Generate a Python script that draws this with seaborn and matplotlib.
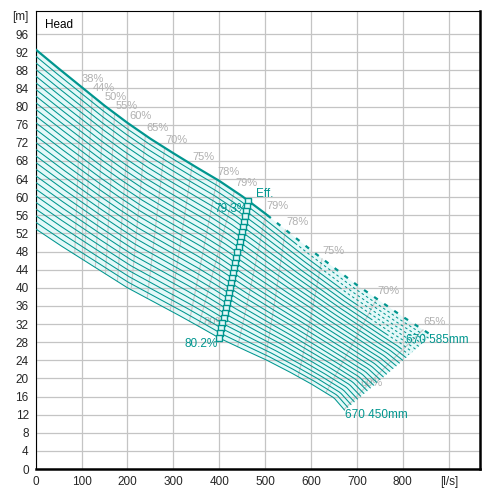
import numpy as np
import matplotlib
matplotlib.use("Agg")
import matplotlib.pyplot as plt
import seaborn as sns

# largest impeller (585mm)
top_q = [0, 50, 100, 150, 200, 250, 300, 350, 400, 450, 500, 600, 700, 800, 863]
top_h = [92.6, 88.4, 84.3, 80.2, 76.4, 72.9, 69.7, 66.6, 63.6, 60.2, 56.4, 48.3, 40.6, 33.6, 29.5]
# smallest impeller (450mm)
bot_q = [0, 50, 100, 150, 200, 250, 300, 350, 400, 450, 500, 550, 600, 650, 673]
bot_h = [53.0, 49.6, 46.4, 43.2, 40.0, 37.3, 34.6, 31.8, 28.9, 26.5, 24.2, 21.6, 18.8, 15.7, 13.0]
diameters = list(range(585, 449, -5))   # 28 trims

# curves turn dashed past this line
dash_q = [500, 810]
dash_h = [56.4, 25.0]

# best efficiency point on largest / smallest curve
bep_q = [463, 400]
bep_labels = ['79.3%', '80.2%']

# iso-efficiency lines: flow where they meet the top and bottom curve
eff_labels = ['38%', '44%', '50%', '55%', '60%', '65%', '70%', '75%', '78%', '79%',
              '79%', '78%', '75%', '70%', '65%']
eff_top_q = [99, 123, 148, 172, 203, 239, 281, 341, 395, 433, 501, 544, 624, 743, 844]
eff_bot_q = [85, 106, 130, 152, 178, 208, 243, 293, 335, 355, 440, 500, 572, 632, 672]

x_ticks = [0, 100, 200, 300, 400, 500, 600, 700, 800, 900]
x_ticklabels = ['0', '100', '200', '300', '400', '500', '600', '700', '800', '[l/s]']
y_ticks = list(range(0, 101, 4))
y_ticklabels = [str(v) for v in y_ticks[:-1]] + ['[m]']

teal = '#00968f'
grey_line = '#c8c8c8'
grey_text = '#b0b0b0'

sns.set_style("white")
plt.rcParams['font.family'] = ['Liberation Sans', 'DejaVu Sans']

q_top_end, q_bot_end = top_q[-1], bot_q[-1]
s = np.linspace(0, 1, 160)


def curve(d):
    f = (d - 450) / 135
    q = s * (f * q_top_end + (1 - f) * q_bot_end)
    h = f * np.interp(s * q_top_end, top_q, top_h) + (1 - f) * np.interp(s * q_bot_end, bot_q, bot_h)
    return f, q, h


def dash_line(q):
    return dash_h[0] + (q - dash_q[0]) * (dash_h[1] - dash_h[0]) / (dash_q[1] - dash_q[0])


fig, ax = plt.subplots(figsize=(5, 5), dpi=100)
fig.subplots_adjust(left=0.0714, right=0.959, bottom=0.062, top=0.978)

curves = {d: curve(d) for d in diameters}

# light fill of the whole family
_, qa, ha = curves[585]
_, qb, hb = curves[450]
ax.fill(np.concatenate([qa, qb[::-1]]), np.concatenate([ha, hb[::-1]]),
        color='#e4f9f9', lw=0, zorder=0.2)

# iso-efficiency lines
for lab, qt, qbq in zip(eff_labels, eff_top_q, eff_bot_q):
    xs, ys = [], []
    for d in diameters:
        f, q, h = curves[d]
        qq = f * qt + (1 - f) * qbq
        xs.append(qq)
        ys.append(np.interp(qq, q, h))
    sns.lineplot(x=xs, y=ys, ax=ax, color=grey_line, lw=0.8, sort=False,
                 estimator=None, zorder=1)
    ax.annotate(lab, (xs[0], ys[0]), xytext=(0.5, 5.5), textcoords='offset points',
                ha='left', va='center', fontsize=8, color=grey_text, zorder=1.5)
ax.text(707, 18.9, '60%', ha='left', va='center', fontsize=8, color=grey_text, zorder=1.5)
ax.text(365, 32.5, '80%', ha='left', va='center', fontsize=8, color=grey_text, zorder=1.5)

# the curve family, solid then dashed
for d in diameters:
    f, q, h = curves[d]
    lw = 1.6 if d == 585 else 0.75
    past = (q >= dash_q[0]) & (h >= dash_line(q) - 1e-6)
    cut = np.argmax(past) if past.any() else len(q)
    sns.lineplot(x=q[:cut + 1], y=h[:cut + 1], ax=ax, color=teal, lw=lw,
                 sort=False, estimator=None, zorder=3)
    if cut < len(q) - 1:
        sns.lineplot(x=q[cut:], y=h[cut:], ax=ax, color=teal, lw=lw, sort=False,
                     estimator=None, zorder=3,
                     linestyle=(0, (2, 3.5)) if d == 585 else (0, (2.5, 2.5)))

# efficiency points
bx, by = [], []
for d in diameters:
    f, q, h = curves[d]
    qq = f * bep_q[0] + (1 - f) * bep_q[1]
    bx.append(qq)
    by.append(np.interp(qq, q, h))
ax.text(bx[0] - 1, by[0] - 1.9, bep_labels[0], ha='right', va='center', fontsize=8.5,
        color=teal, zorder=4)
ax.text(bx[-1] - 3, by[-1] - 1.3, bep_labels[1], ha='right', va='center', fontsize=8.5,
        color=teal, zorder=4)
sns.lineplot(x=bx, y=by, ax=ax, color=teal, lw=1, marker='s', markersize=4.8,
             markerfacecolor='#e4f9f9', markeredgecolor=teal, markeredgewidth=1.0,
             sort=False, estimator=None, zorder=5)
ax.text(bx[0] + 17, by[0] + 1.6, 'Eff.', ha='left', va='center', fontsize=8.5, color=teal, zorder=4)

ax.text(807, 28.5, '670 585mm', ha='left', va='center', fontsize=8.5, color=teal, zorder=6)
ax.text(673, 11.9, '670 450mm', ha='left', va='center', fontsize=8.5, color=teal, zorder=6)
ax.text(20, 98, 'Head', ha='left', va='center', fontsize=8.5, color='black')

ax.set_xlim(0, 967)
ax.set_ylim(0, 101.1)
ax.set_xticks(x_ticks)
ax.set_xticklabels(x_ticklabels)
ax.set_xticks(np.arange(0, 961, 20), minor=True)
ax.set_yticks(y_ticks)
ax.set_yticklabels(y_ticklabels)
ax.set_yticks(np.arange(0, 101, 1), minor=True)
ax.tick_params(which='major', length=3.5, width=0.7, direction='out', labelsize=8.5,
               pad=1.5, color='black')
ax.tick_params(which='minor', length=2, width=0.6, direction='out', color='black')
ax.set_axisbelow(True)
ax.grid(True, which='major', color='#c4c4c4', lw=0.9)
ax.yaxis.get_major_ticks()[-1].gridline.set_visible(False)
ax.set_xlabel('')
ax.set_ylabel('')

for side in ['left', 'top']:
    ax.spines[side].set_linewidth(0.8)
    ax.spines[side].set_color('black')
for side in ['right', 'bottom']:
    ax.spines[side].set_linewidth(1.8)
    ax.spines[side].set_color('black')

fig.savefig('out.png', dpi=100)
